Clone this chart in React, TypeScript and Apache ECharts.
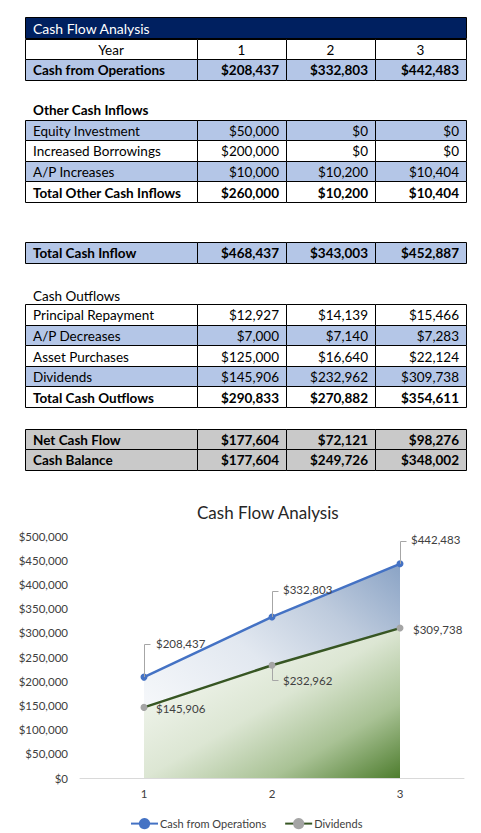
import React, { useEffect, useRef } from "react";
import * as echarts from "echarts";

const years = ["1", "2", "3"];
const cashFromOperations = [208437, 332803, 442483];
const equityInvestment = [50000, 0, 0];
const increasedBorrowings = [200000, 0, 0];
const apIncreases = [10000, 10200, 10404];
const totalOtherCashInflows = [260000, 10200, 10404];
const totalCashInflow = [468437, 343003, 452887];
const principalRepayment = [12927, 14139, 15466];
const apDecreases = [7000, 7140, 7283];
const assetPurchases = [125000, 16640, 22124];
const dividends = [145906, 232962, 309738];
const totalCashOutflows = [290833, 270882, 354611];
const netCashFlow = [177604, 72121, 98276];
const cashBalance = [177604, 249726, 348002];
const yTicks = [0, 500000, 50000];

const FONT = "Lato, 'Noto Sans', sans-serif";
const NAVY = "#002060";
const BLUE = "#B4C6E7";
const GRAY = "#C9C9C9";
const WHITE = "#FFFFFF";

const money = (n: number) =>
  "$" + String(n).replace(/\B(?=(\d{3})+(?!\d))/g, ",");

const COLS = [25, 197, 286, 375, 466];
const RH = 20.6;
const TFS = 13.5;

type Row = { label: string; values: number[]; fill: string; bold: boolean };

function buildTable(): any[] {
  const els: any[] = [];
  const txt = (x: number, y: number, text: string, bold: boolean, align: string, color = "#000", fs = TFS) => {
    els.push({
      type: "text",
      x,
      y,
      style: {
        text,
        fill: color,
        font: `${bold ? "bold " : ""}${fs}px ${FONT}`,
        textAlign: align,
        align,
        textVerticalAlign: "middle",
        verticalAlign: "middle",
      },
    });
  };
  const cell = (x0: number, x1: number, y0: number, h: number, fill: string) => {
    els.push({
      type: "rect",
      shape: { x: Math.round(x0) + 0.5, y: Math.round(y0) + 0.5, width: Math.round(x1) - Math.round(x0), height: Math.round(y0 + h) - Math.round(y0) },
      style: { fill, stroke: "#000", lineWidth: 1 },
    });
  };
  const drawRows = (y0: number, rows: Row[]) => {
    rows.forEach((r, i) => {
      const y = y0 + i * RH;
      for (let c = 0; c < 4; c++) cell(COLS[c], COLS[c + 1], y, RH, r.fill);
      txt(33, y + RH / 2 + 1, r.label, r.bold, "left");
      r.values.forEach((v, j) => txt(COLS[j + 2] - 7, y + RH / 2 + 1, money(v), r.bold, "right"));
    });
  };

  // Title bar
  els.push({
    type: "rect",
    shape: { x: 25.5, y: 17.5, width: 441, height: 21 },
    style: { fill: NAVY, stroke: "#000", lineWidth: 1 },
  });
  txt(33, 28.5, "Cash Flow Analysis", false, "left", "#FFFFFF", 14);
  // Year row
  const yy = 38.5;
  for (let c = 0; c < 4; c++) cell(COLS[c], COLS[c + 1], yy, RH, WHITE);
  txt((COLS[0] + COLS[1]) / 2, yy + RH / 2 + 1, "Year", false, "center");
  years.forEach((yr, j) => txt((COLS[j + 1] + COLS[j + 2]) / 2, yy + RH / 2 + 1, yr, false, "center"));
  drawRows(yy + RH, [{ label: "Cash from Operations", values: cashFromOperations, fill: BLUE, bold: true }]);

  txt(33, 110, "Other Cash Inflows", true, "left");
  drawRows(119.5, [
    { label: "Equity Investment", values: equityInvestment, fill: BLUE, bold: false },
    { label: "Increased Borrowings", values: increasedBorrowings, fill: WHITE, bold: false },
    { label: "A/P Increases", values: apIncreases, fill: BLUE, bold: false },
    { label: "Total Other Cash Inflows", values: totalOtherCashInflows, fill: WHITE, bold: true },
  ]);
  drawRows(242, [{ label: "Total Cash Inflow", values: totalCashInflow, fill: BLUE, bold: true }]);

  txt(33, 296, "Cash Outflows", false, "left");
  drawRows(304, [
    { label: "Principal Repayment", values: principalRepayment, fill: WHITE, bold: false },
    { label: "A/P Decreases", values: apDecreases, fill: BLUE, bold: false },
    { label: "Asset Purchases", values: assetPurchases, fill: WHITE, bold: false },
    { label: "Dividends", values: dividends, fill: BLUE, bold: false },
    { label: "Total Cash Outflows", values: totalCashOutflows, fill: WHITE, bold: true },
  ]);
  drawRows(428.5, [
    { label: "Net Cash Flow", values: netCashFlow, fill: GRAY, bold: true },
    { label: "Cash Balance", values: cashBalance, fill: GRAY, bold: true },
  ]);
  return els;
}

// callout layout per point: [leader dy, text dx, text dy]
const cfoCallouts = [
  [-33, 12, -34],
  [-26, 11, -27],
  [-23, 11, -24],
];
const divCallouts = [
  [0, 12, 1],
  [15, 11, 15],
  [0, 13, 1],
];

function calloutSeries(name: string, values: number[], layout: number[][]) {
  return {
    type: "custom",
    name: name + "-labels",
    clip: false,
    silent: true,
    z: 10,
    data: values.map((v, i) => [i, v]),
    renderItem: (params: any, api: any) => {
      const i = api.value(0);
      const v = api.value(1);
      const p = api.coord([i, v]);
      const [ldy, tdx, tdy] = layout[i];
      const children: any[] = [];
      if (ldy !== 0) {
        const x = Math.round(p[0]) + 0.5;
        const y2 = Math.round(p[1] + ldy) + 0.5;
        children.push({
          type: "polyline",
          shape: { points: [[x, p[1]], [x, y2], [x + 6, y2]] },
          style: { stroke: "#A6A6A6", lineWidth: 1, fill: "none" },
          z2: 1,
        });
      }
      children.push({
        type: "text",
        x: p[0] + tdx,
        y: p[1] + tdy,
        style: {
          text: money(v),
          fill: "#404040",
          font: `11.5px ${FONT}`,
          textAlign: "left",
          align: "left",
          textVerticalAlign: "middle",
          verticalAlign: "middle",
        },
        z2: 2,
      });
      return { type: "group", children };
    },
  };
}

export default function App() {
  const ref = useRef<HTMLDivElement>(null);
  useEffect(() => {
    document.body.style.margin = "0";
    const chart = echarts.init(ref.current!, undefined, { renderer: "svg" });
    chart.setOption({
      animation: false,
      backgroundColor: "#FFFFFF",
      textStyle: { fontFamily: FONT },
      graphic: buildTable(),
      title: {
        text: "Cash Flow Analysis",
        left: 192,
        top: 499,
        textStyle: { fontFamily: FONT, fontSize: 17, fontWeight: "normal", color: "#262626" },
      },
      legend: {
        top: 813,
        left: 125,
        itemWidth: 27,
        itemHeight: 14,
        itemGap: 18,
        textStyle: { fontFamily: FONT, fontSize: 11, color: "#404040", padding: [0, 0, 0, -3] },
        data: ["Cash from Operations", "Dividends"],
      },
      grid: { left: 80, right: 17, top: 536, bottom: 55, containLabel: false },
      xAxis: {
        type: "category",
        data: years,
        axisLine: { lineStyle: { color: "#D9D9D9", width: 1 } },
        axisTick: { show: false },
        axisLabel: { color: "#404040", fontSize: 11.5, fontFamily: FONT, margin: 9 },
      },
      yAxis: {
        type: "value",
        min: yTicks[0],
        max: yTicks[1],
        interval: yTicks[2],
        axisLine: { show: false },
        axisTick: { show: false },
        splitLine: { show: false },
        axisLabel: { color: "#404040", fontSize: 11.5, fontFamily: FONT, margin: 12, formatter: (v: number) => money(v) },
      },
      series: [
        {
          name: "Cash from Operations",
          type: "line",
          data: cashFromOperations,
          symbol: "circle",
          symbolSize: 7,
          lineStyle: { color: "#4472C4", width: 2.5 },
          itemStyle: { color: "#4472C4" },
          areaStyle: {
            opacity: 1,
            color: new echarts.graphic.LinearGradient(0, 1, 1, 0, [
              { offset: 0, color: "#FFFFFF" },
              { offset: 0.5, color: "#E2E8F0" },
              { offset: 0.75, color: "#BECBDD" },
              { offset: 1, color: "#8AA3C5" },
            ]),
          },
          z: 2,
        },
        {
          name: "Dividends",
          type: "line",
          data: dividends,
          symbol: "circle",
          symbolSize: 7,
          lineStyle: { color: "#375623", width: 2.5 },
          itemStyle: { color: "#A5A5A5" },
          areaStyle: {
            opacity: 1,
            color: new echarts.graphic.LinearGradient(0, 0, 1, 1, [
              { offset: 0, color: "#FFFFFF" },
              { offset: 0.5, color: "#DCE6D3" },
              { offset: 0.75, color: "#A9C295" },
              { offset: 1, color: "#4E7D2E" },
            ]),
          },
          z: 3,
        },
        calloutSeries("Cash from Operations", cashFromOperations, cfoCallouts),
        calloutSeries("Dividends", dividends, divCallouts),
      ],
    });
    return () => chart.dispose();
  }, []);
  return <div ref={ref} style={{ position: "fixed", left: 0, top: 0, width: 481, height: 833 }} />;
}
